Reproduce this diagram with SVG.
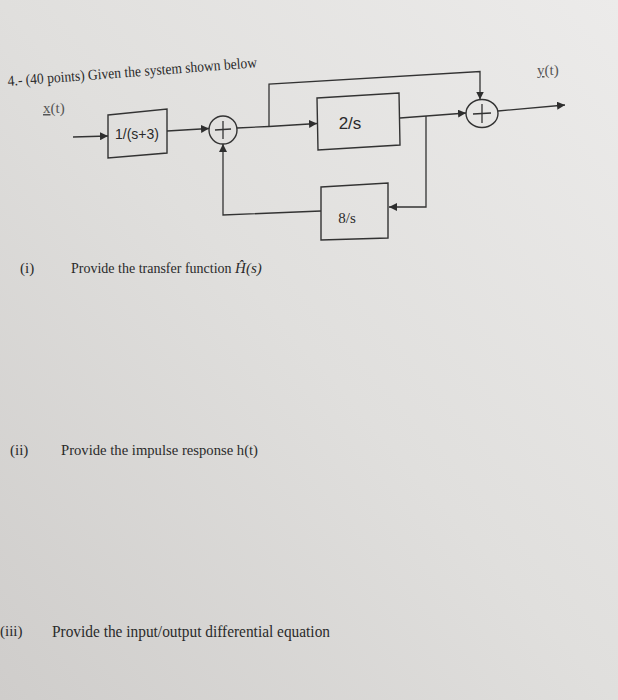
<svg xmlns="http://www.w3.org/2000/svg" width="618" height="700" viewBox="0 0 618 700">
<defs>
<linearGradient id="bg" x1="1" y1="0" x2="0" y2="1">
<stop offset="0" stop-color="#ecebea"/>
<stop offset="0.5" stop-color="#e0dfdd"/>
<stop offset="1" stop-color="#cfcdcb"/>
</linearGradient>
<marker id="ah" viewBox="0 0 10 10" refX="10" refY="5" markerWidth="8" markerHeight="8" markerUnits="userSpaceOnUse" orient="auto">
<path d="M0,0 L10,5 L0,10 z" fill="#2e2e2e"/>
</marker>
</defs>
<style>
.ln{fill:none;stroke:#333;stroke-width:1.3}
.bx{fill:none;stroke:#333;stroke-width:1.4}
.arr{fill:none;stroke:#333;stroke-width:1.3;marker-end:url(#ah)}
.sans{font-family:"Liberation Sans",Arial,sans-serif;fill:#2a2a2a}
.serif{font-family:"Liberation Serif","Times New Roman",serif;fill:#2a2a2a}
.lbl{font-family:"Liberation Serif","Times New Roman",serif;fill:#555}
</style>
<rect x="0" y="0" width="618" height="700" fill="url(#bg)"/>

<g id="title">
<text class="serif" x="8" y="86" font-size="15" textLength="250" lengthAdjust="spacingAndGlyphs" transform="rotate(-4.3 8 86)">4.- (40 points) Given the system shown below</text>
</g>

<g id="label-x">
<text class="lbl" x="43" y="113" font-size="15"><tspan text-decoration="underline">x</tspan>(t)</text>
</g>
<g id="label-y">
<text class="lbl" x="537" y="75" font-size="15"><tspan text-decoration="underline">y</tspan>(t)</text>
</g>

<g id="connectors">
<line class="arr" x1="73" y1="137" x2="108" y2="136"/>
<line class="arr" x1="167" y1="131" x2="209" y2="128.5"/>
<polyline class="ln" points="237,128 269,126.5"/>
<line class="arr" x1="269" y1="126.5" x2="317" y2="123.5"/>
<polyline class="arr" points="269,126.5 269,84 480,71.5 480,99.5"/>
<line class="arr" x1="400" y1="118" x2="466" y2="113"/>
<polyline class="arr" points="426,116 426,207 389,207"/>
<polyline class="arr" points="321,211 223,215 223,144"/>
<line class="arr" x1="498" y1="111" x2="565" y2="105"/>
</g>

<g id="block-1">
<polygon class="bx" points="108,115 167,109 167,153 108,158"/>
<text class="sans" x="137" y="139" font-size="14" text-anchor="middle">1/(s+3)</text>
</g>

<g id="sum-1">
<circle class="bx" cx="223" cy="130" r="14"/>
<line class="ln" x1="215" y1="130" x2="231" y2="129"/>
<line class="ln" x1="223" y1="121" x2="223" y2="139"/>
</g>

<g id="block-2">
<polygon class="bx" points="317,98 399,93 400,145 318,150"/>
<text class="sans" x="350" y="129" font-size="17" text-anchor="middle">2/s</text>
</g>

<g id="sum-2">
<ellipse class="bx" cx="482" cy="113.5" rx="16" ry="14"/>
<line class="ln" x1="473" y1="114" x2="491" y2="113"/>
<line class="ln" x1="482" y1="104" x2="482" y2="123"/>
</g>

<g id="block-3">
<polygon class="bx" points="321,187 388,183 388,238 321,240"/>
<text class="serif" x="347" y="223" font-size="15" text-anchor="middle">8/s</text>
</g>

<g id="questions">
<text class="serif" x="20" y="273" font-size="15">(i)</text>
<text class="serif" x="71" y="273" font-size="14">Provide the transfer function <tspan font-style="italic" font-size="15">Ĥ(s)</tspan></text>
<text class="serif" x="10" y="455" font-size="15">(ii)</text>
<text class="serif" x="61" y="455" font-size="15" textLength="197" lengthAdjust="spacingAndGlyphs">Provide the impulse response h(t)</text>
<text class="serif" x="0" y="636" font-size="15">(iii)</text>
<text class="serif" x="52" y="637" font-size="16" textLength="278" lengthAdjust="spacingAndGlyphs">Provide the input/output differential equation</text>
</g>
</svg>
